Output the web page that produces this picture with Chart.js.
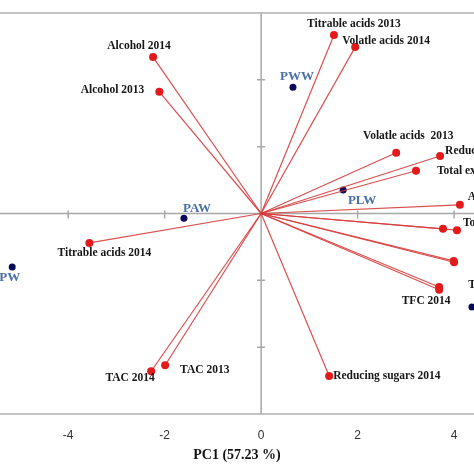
<!DOCTYPE html>
<html>
<head>
<meta charset="utf-8">
<script src="https://cdn.jsdelivr.net/npm/chart.js@4.4.1/dist/chart.umd.min.js"></script>
<style>
  html, body { margin: 0; padding: 0; background: #fff; }
  #wrap { width: 474px; height: 474px; }
</style>
</head>
<body>
<div id="wrap"><canvas id="biplot"></canvas></div>
<script>
// loadings (red vectors)
const varNames = [
  'Alcohol 2014', 'Alcohol 2013', 'Titrable acids 2013', 'Volatle acids 2014',
  'Volatle acids  2013', 'Reducing sugars 2013', 'Total extract 2013', 'Ash 2013',
  'Total extract 2014', 'Ash 2014', 'TPC 2013', 'TPC 2014',
  'TFC 2013', 'TFC 2014', 'Reducing sugars 2014', 'TAC 2014', 'TAC 2013', 'Titrable acids 2014'
];
const varPC1 = [-2.24, -2.11, 1.51, 1.95, 2.80, 3.71, 3.21, 4.12, 3.77, 4.06, 4.00, 3.99, 3.69, 3.69, 1.41, -2.28, -1.99, -3.56];
const varPC2 = [2.34, 1.82, 2.67, 2.49, 0.91, 0.86, 0.64, 0.13, -0.23, -0.25, -0.73, -0.71, -1.10, -1.14, -2.43, -2.36, -2.27, -0.44];

// scores (samples)
const obsNames = ['PWW', 'PLW', 'PAW', 'PPW', 'PSW'];
const obsPC1 = [0.66, 1.70, -1.60, -5.16, 4.37];
const obsPC2 = [1.89, 0.35, -0.07, -0.80, -1.40];

const xTicks = [-4, -2, 0, 2, 4];
const yTicks = [-3, -2, -1, 0, 1, 2, 3];

// label placement: [dx, dy, align]
const varLabelPos = [
  [-14, -11, 'center'], [-15, -2, 'right'], [20, -11, 'center'], [-13, -6, 'left'],
  [12, -17, 'center'], [5, -5, 'left'], [21, 0, 'left'], [8, -8, 'left'],
  [20, -6, 'left'], [30, 0, 'left'], [30, 0, 'left'], [30, 0, 'left'],
  [29, -2, 'left'], [-13, 11, 'center'], [4, 0, 'left'], [-21, 7, 'center'],
  [15, 5, 'left'], [15, 10, 'center']
];
const obsLabelPos = [[4, -11, 'center'], [19, 11, 'center'], [13, -10, 'center'], [8, 11, 'right'], [8, 0, 'left']];

const RED = '#e31a1c';
const NAVY = '#0a0a5a';

const vectorSets = varNames.map((name, i) => ({
  label: name,
  type: 'line',
  data: [{ x: 0, y: 0 }, { x: varPC1[i], y: varPC2[i] }],
  borderColor: 'rgba(214, 60, 60, 0.9)',
  borderWidth: 1.2,
  pointRadius: [0, 4],
  pointBackgroundColor: RED,
  pointBorderWidth: 0,
  fill: false,
  clip: false
}));

const obsSet = {
  label: 'samples',
  type: 'scatter',
  data: obsNames.map((n, i) => ({ x: obsPC1[i], y: obsPC2[i] })),
  pointRadius: 3.5,
  pointBackgroundColor: NAVY,
  pointBorderWidth: 0,
  clip: false
};

const framePlugin = {
  id: 'frame',
  beforeDatasetsDraw(chart) {
    const { ctx, chartArea: a, scales: { x, y } } = chart;
    const x0 = x.getPixelForValue(0), y0 = y.getPixelForValue(0);
    ctx.save();
    ctx.strokeStyle = '#c4c4c4';
    ctx.lineWidth = 2;
    ctx.beginPath();
    ctx.moveTo(0, a.top); ctx.lineTo(chart.width, a.top);
    ctx.moveTo(0, a.bottom); ctx.lineTo(chart.width, a.bottom);
    ctx.stroke();
    ctx.strokeStyle = '#a8a8a8';
    ctx.lineWidth = 1.5;
    ctx.beginPath();
    ctx.moveTo(0, y0); ctx.lineTo(chart.width, y0);
    ctx.moveTo(x0, a.top); ctx.lineTo(x0, a.bottom);
    xTicks.filter(v => v !== 0).forEach(v => {
      const px = x.getPixelForValue(v);
      ctx.moveTo(px, y0 - 3); ctx.lineTo(px, y0 + 5);
    });
    yTicks.filter(v => v !== 0 && Math.abs(v) < 3).forEach(v => {
      const py = y.getPixelForValue(v);
      ctx.moveTo(x0 - 4, py); ctx.lineTo(x0 + 4, py);
    });
    ctx.stroke();
    ctx.restore();
  }
};

const labelPlugin = {
  id: 'pointLabels',
  afterDatasetsDraw(chart) {
    const { ctx } = chart;
    ctx.save();
    ctx.textBaseline = 'middle';
    ctx.font = 'bold 11.5px "Liberation Serif", "Times New Roman", serif';
    ctx.fillStyle = '#161616';
    varNames.forEach((name, i) => {
      const pt = chart.getDatasetMeta(i).data[1];
      const [dx, dy, align] = varLabelPos[i];
      ctx.textAlign = align;
      ctx.fillText(name, pt.x + dx, pt.y + dy);
    });
    ctx.font = 'bold 13px "Liberation Serif", "Times New Roman", serif';
    ctx.fillStyle = '#4a6fa5';
    const meta = chart.getDatasetMeta(varNames.length);
    obsNames.forEach((name, i) => {
      const pt = meta.data[i];
      const [dx, dy, align] = obsLabelPos[i];
      ctx.textAlign = align;
      ctx.fillText(name, pt.x + dx, pt.y + dy);
    });
    ctx.restore();
  }
};

new Chart(document.getElementById('biplot'), {
  type: 'scatter',
  data: { datasets: [...vectorSets, obsSet] },
  options: {
    responsive: true,
    maintainAspectRatio: false,
    animation: false,
    layout: { padding: { top: 13, left: 0, right: 0, bottom: 0 } },
    plugins: { legend: { display: false }, tooltip: { enabled: false } },
    scales: {
      x: {
        type: 'linear',
        min: -5.33,
        max: 4.33,
        afterBuildTicks: s => { s.ticks = xTicks.map(v => ({ value: v })); },
        afterFit: s => { s.height = 60; },
        grid: { display: false },
        border: { display: false },
        ticks: {
          padding: 6,
          color: '#333',
          font: { family: '"Liberation Sans", Arial, sans-serif', size: 12 }
        },
        title: {
          display: true,
          text: 'PC1 (57.23 %)',
          color: '#111',
          padding: { top: 0, bottom: 10 },
          font: { family: '"Liberation Serif", "Times New Roman", serif', size: 14, weight: 'bold' }
        }
      },
      y: {
        type: 'linear',
        min: -3,
        max: 3,
        display: false,
        afterBuildTicks: s => { s.ticks = yTicks.map(v => ({ value: v })); }
      }
    }
  },
  plugins: [framePlugin, labelPlugin]
});
</script>
</body>
</html>
